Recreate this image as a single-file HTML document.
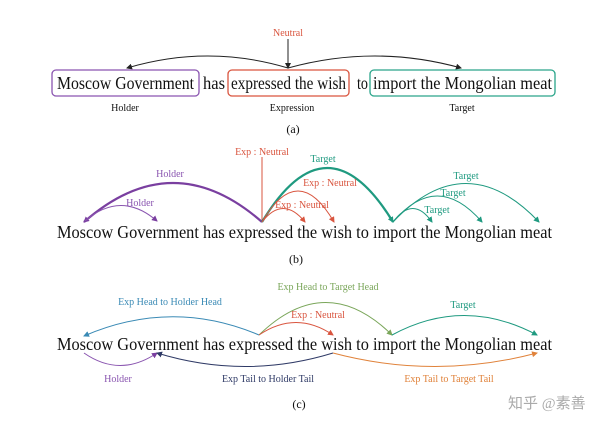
<!DOCTYPE html>
<html><head><style>
html,body{margin:0;padding:0;background:#fff;}
svg{display:block;}
text{font-family:"Liberation Serif",serif;}
.w{font-size:17.5px;fill:#111;}
.s{font-size:10px;}
</style></head><body>
<svg width="600" height="427" viewBox="0 0 600 427" xmlns="http://www.w3.org/2000/svg">
<defs>
<marker id="ak" markerWidth="6" markerHeight="6" refX="5" refY="3" orient="auto" markerUnits="userSpaceOnUse"><path d="M0,0 L6,3 L0,6z" fill="#222"/></marker>
<marker id="ap" markerWidth="6" markerHeight="6" refX="5" refY="3" orient="auto" markerUnits="userSpaceOnUse"><path d="M0,0 L6,3 L0,6z" fill="#7a3fa0"/></marker>
<marker id="ar" markerWidth="6" markerHeight="6" refX="5" refY="3" orient="auto" markerUnits="userSpaceOnUse"><path d="M0,0 L6,3 L0,6z" fill="#d9553f"/></marker>
<marker id="at" markerWidth="6" markerHeight="6" refX="5" refY="3" orient="auto" markerUnits="userSpaceOnUse"><path d="M0,0 L6,3 L0,6z" fill="#1f9a80"/></marker>
<marker id="ab" markerWidth="6" markerHeight="6" refX="5" refY="3" orient="auto" markerUnits="userSpaceOnUse"><path d="M0,0 L6,3 L0,6z" fill="#3a8ab5"/></marker>
<marker id="ag" markerWidth="6" markerHeight="6" refX="5" refY="3" orient="auto" markerUnits="userSpaceOnUse"><path d="M0,0 L6,3 L0,6z" fill="#7aa65a"/></marker>
<marker id="an" markerWidth="6" markerHeight="6" refX="5" refY="3" orient="auto" markerUnits="userSpaceOnUse"><path d="M0,0 L6,3 L0,6z" fill="#2f3a66"/></marker>
<marker id="ao" markerWidth="6" markerHeight="6" refX="5" refY="3" orient="auto" markerUnits="userSpaceOnUse"><path d="M0,0 L6,3 L0,6z" fill="#e0823a"/></marker>
</defs>

<!-- (a) -->
<text x="288" y="36" class="s" fill="#d9553f" text-anchor="middle">Neutral</text>
<line x1="288" y1="39" x2="288" y2="68" stroke="#222" stroke-width="1" marker-end="url(#ak)"/>
<path d="M288,68 Q208,44 127,68" fill="none" stroke="#222" stroke-width="1" marker-end="url(#ak)"/>
<path d="M288,68 Q375,44 461,68" fill="none" stroke="#222" stroke-width="1" marker-end="url(#ak)"/>
<rect x="52" y="70" width="147" height="26" rx="4" fill="none" stroke="#8a55b0" stroke-width="1.3"/>
<rect x="228" y="70" width="121" height="26" rx="4" fill="none" stroke="#d9553f" stroke-width="1.3"/>
<rect x="370" y="70" width="185" height="26" rx="4" fill="none" stroke="#2aa58a" stroke-width="1.3"/>
<text class="w" x="57" y="89" textLength="137" lengthAdjust="spacingAndGlyphs">Moscow Government</text>
<text class="w" x="203" y="89" textLength="22" lengthAdjust="spacingAndGlyphs">has</text>
<text class="w" x="231" y="89" textLength="115" lengthAdjust="spacingAndGlyphs">expressed the wish</text>
<text class="w" x="357" y="89" textLength="11" lengthAdjust="spacingAndGlyphs">to</text>
<text class="w" x="373" y="89" textLength="179" lengthAdjust="spacingAndGlyphs">import  the Mongolian  meat</text>
<text x="125" y="111" class="s" fill="#111" text-anchor="middle">Holder</text>
<text x="292" y="111" class="s" fill="#111" text-anchor="middle">Expression</text>
<text x="462" y="111" class="s" fill="#111" text-anchor="middle">Target</text>
<text x="293" y="133" font-size="12" fill="#111" text-anchor="middle">(a)</text>

<!-- (b) -->
<text class="w" x="57" y="238" textLength="495" lengthAdjust="spacingAndGlyphs">Moscow Government  has expressed the wish  to import  the Mongolian  meat</text>
<path d="M262,222 Q173,144 84,222" fill="none" stroke="#7a3fa0" stroke-width="2.2" marker-end="url(#ap)"/>
<text x="170" y="177" class="s" fill="#8a55b0" text-anchor="middle">Holder</text>
<path d="M85,221 Q121,190 157,221" fill="none" stroke="#8a55b0" stroke-width="1" marker-end="url(#ap)"/>
<text x="140" y="206" class="s" fill="#8a55b0" text-anchor="middle">Holder</text>
<line x1="262" y1="157" x2="262" y2="222" stroke="#d9553f" stroke-width="1"/>
<text x="262" y="155" class="s" fill="#d9553f" text-anchor="middle">Exp : Neutral</text>
<path d="M262,222 Q327,114 393,222" fill="none" stroke="#1f9a80" stroke-width="2.2" marker-end="url(#at)"/>
<text x="323" y="162" class="s" fill="#1f9a80" text-anchor="middle">Target</text>
<path d="M262,222 Q298,160 334,222" fill="none" stroke="#d9553f" stroke-width="1" marker-end="url(#ar)"/>
<text x="330" y="186" class="s" fill="#d9553f" text-anchor="middle">Exp : Neutral</text>
<path d="M262,222 Q283,195 305,222" fill="none" stroke="#d9553f" stroke-width="1" marker-end="url(#ar)"/>
<text x="302" y="208" class="s" fill="#d9553f" text-anchor="middle">Exp : Neutral</text>
<path d="M393,222 Q466,145 539,222" fill="none" stroke="#1f9a80" stroke-width="1" marker-end="url(#at)"/>
<text x="466" y="179" class="s" fill="#1f9a80" text-anchor="middle">Target</text>
<path d="M393,222 Q437,170 482,222" fill="none" stroke="#1f9a80" stroke-width="1" marker-end="url(#at)"/>
<text x="453" y="196" class="s" fill="#1f9a80" text-anchor="middle">Target</text>
<path d="M393,222 Q413,195 432,222" fill="none" stroke="#1f9a80" stroke-width="1" marker-end="url(#at)"/>
<text x="437" y="213" class="s" fill="#1f9a80" text-anchor="middle">Target</text>
<text x="296" y="263" font-size="12" fill="#111" text-anchor="middle">(b)</text>

<!-- (c) -->
<text class="w" x="57" y="350" textLength="495" lengthAdjust="spacingAndGlyphs">Moscow Government  has expressed the wish  to import  the Mongolian  meat</text>
<path d="M259,335 Q172,298 84,336" fill="none" stroke="#3a8ab5" stroke-width="1" marker-end="url(#ab)"/>
<text x="170" y="305" class="s" fill="#3a8ab5" text-anchor="middle">Exp Head to Holder Head</text>
<path d="M259,335 Q326,270 392,335" fill="none" stroke="#7aa65a" stroke-width="1" marker-end="url(#ag)"/>
<text x="328" y="290" class="s" fill="#7aa65a" text-anchor="middle">Exp Head to Target Head</text>
<path d="M259,335 Q296,310 333,335" fill="none" stroke="#d9553f" stroke-width="1" marker-end="url(#ar)"/>
<text x="318" y="318" class="s" fill="#d9553f" text-anchor="middle">Exp : Neutral</text>
<path d="M392,335 Q464,296 537,335" fill="none" stroke="#1f9a80" stroke-width="1" marker-end="url(#at)"/>
<text x="463" y="308" class="s" fill="#1f9a80" text-anchor="middle">Target</text>
<path d="M84,353 Q120,378 157,353" fill="none" stroke="#8a55b0" stroke-width="1" marker-end="url(#ap)"/>
<text x="118" y="382" class="s" fill="#8a55b0" text-anchor="middle">Holder</text>
<path d="M333,353 Q245,380 157,353" fill="none" stroke="#2f3a66" stroke-width="1" marker-end="url(#an)"/>
<text x="268" y="382" class="s" fill="#2f3a66" text-anchor="middle">Exp Tail to Holder Tail</text>
<path d="M333,353 Q435,380 537,353" fill="none" stroke="#e0823a" stroke-width="1" marker-end="url(#ao)"/>
<text x="449" y="382" class="s" fill="#e0823a" text-anchor="middle">Exp Tail to Target Tail</text>
<text x="299" y="408" font-size="12" fill="#111" text-anchor="middle">(c)</text>
<text x="508" y="408" font-size="15" fill="#aaa" font-family="'Liberation Sans','Noto Sans CJK SC',sans-serif">知乎 @素善</text>
</svg>
</body></html>
